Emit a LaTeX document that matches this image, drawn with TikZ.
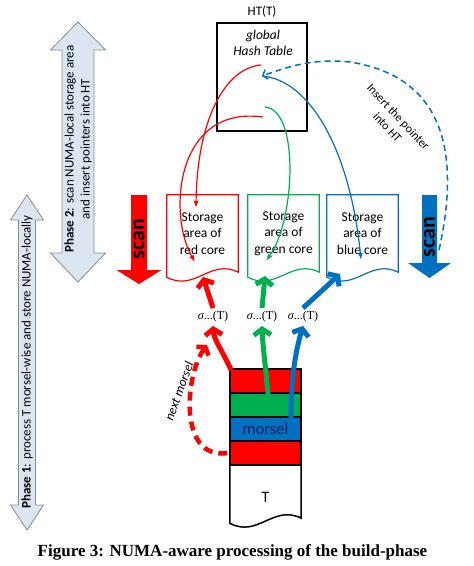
\documentclass[tikz,border=0pt]{standalone}
\usepackage{fontspec}
\setmainfont{Carlito}
\newfontfamily\serifcap{Liberation Serif}
\usetikzlibrary{arrows.meta,calc}
\definecolor{nred}{HTML}{FF0000}
\definecolor{ngreen}{HTML}{00B050}
\definecolor{nblue}{HTML}{0070C0}
\definecolor{navy}{HTML}{002060}
\definecolor{phasefill}{HTML}{DCE6F2}
\definecolor{phaseline}{HTML}{8C8C8C}

% page shape with a wavy bottom, drawn round a named node
\newcommand{\docoutline}[2]{%
  \draw[#2] (#1.north west) -- (#1.north east) -- (#1.south east)
    .. controls +(-28,-14) and +(28,15) .. ($(#1.south west)+(0,5)$) -- cycle;}

\begin{document}
\begin{tikzpicture}[x=1pt,y=-1pt,
  store/.style={minimum width=71pt,minimum height=77pt,inner sep=0pt,align=center,
    font=\fontsize{13.5}{16.5}\selectfont},
  stripe/.style={draw=black,line width=1.5pt,minimum width=71pt,minimum height=24pt,inner sep=0pt},
  fat/.style={line width=5pt,-{Straight Barb[length=6pt,width=17pt]}},
  thin/.style={line width=1.2pt,-{Latex[length=7pt,width=5pt]}},
  sel/.style={font=\serifcap\fontsize{12}{12}\selectfont},
  scantext/.style={rotate=90,font=\bfseries\fontsize{22}{22}\selectfont},
  phase/.style={fill=phasefill,draw=phaseline,line width=0.8pt},
  phasetext/.style={rotate=90,align=center,font=\fontsize{13}{16}\selectfont}]
\useasboundingbox (0,0) rectangle (474,566);

% phase arrows
\draw[phase] (78,22) -- (105.5,50) -- (94,50) -- (94,253) -- (105.5,253) -- (78,282)
  -- (50.5,253) -- (62,253) -- (62,50) -- (50.5,50) -- cycle;
\draw[phase] (27,195) -- (43.5,220) -- (35.5,220) -- (35.5,505) -- (43.5,505) -- (27,530)
  -- (10.5,505) -- (18.5,505) -- (18.5,220) -- (10.5,220) -- cycle;
\node[phasetext] (ph2) at (78,149) {\textbf{Phase 2}: scan NUMA-local storage area\\and insert pointers into HT};
\node[phasetext] (ph1) at (27,362) {\textbf{Phase 1}: process T morsel-wise and store NUMA-locally};

% hash table
\node[font=\fontsize{13}{13}\selectfont] (httitle) at (262,12) {HT(T)};
\node[draw,line width=1.8pt,minimum width=90pt,minimum height=108pt] (ht) at (262,77) {};
\node[align=center,font=\itshape\fontsize{13.5}{16}\selectfont] (htname) at (263,43) {global\\Hash Table};
\coordinate (hr1) at (261,65);
\coordinate (hr2) at (263,117);
\coordinate (hg) at (265,107);
\coordinate (hb) at (262,76);

% scan arrows
\fill[nred] (131,195) -- (147,195) -- (147,270) -- (161.5,270) -- (139,284) -- (116.5,270) -- (131,270) -- cycle;
\fill[nblue] (422,195) -- (437,195) -- (437,263) -- (451,263) -- (429.5,278) -- (408,263) -- (422,263) -- cycle;
\node[scantext] (scanr) at (139,239) {scan};
\node[scantext] (scanb) at (429.5,237) {scan};
\coordinate (dstart) at (439,250);

% storage areas
\node[store] (sred) at (202.5,233.5) {Storage\\area of\\red core};
\node[store] (sgreen) at (283.5,233.5) {Storage\\area of\\green core};
\node[store] (sblue) at (362.5,233.5) {Storage\\area of\\blue core};
\docoutline{sred}{nred,line width=1.2pt}
\docoutline{sgreen}{ngreen,line width=1.2pt}
\docoutline{sblue}{nblue,line width=1.2pt}

% pointers into HT
\draw[thin,nred] (hr1) .. controls (225,68) and (197,120) .. ($(sred.center)+(-6.5,-25.5)$);
\draw[thin,nred] (hr2) .. controls (175,105) and (168,215) .. ($(sred.center)+(-7.5,28.5)$);
\draw[thin,ngreen] (hg) .. controls (300,110) and (295,220) .. ($(sgreen.center)+(-17.5,27.5)$);
\draw[thin,nblue] (hb) .. controls (310,80) and (350,150) .. ($(sblue.center)+(-1.5,26.5)$);
\draw[nblue,line width=1.5pt,dash pattern=on 6pt off 4pt,-{Straight Barb[length=4pt,width=10pt]}]
  (dstart) .. controls (458,165) and (452,78) .. (350,62) .. controls (310,58) and (285,68) .. (hb);
\node[rotate=-47,align=center,font=\fontsize{12}{15}\selectfont] (insert) at (393,122) {Insert the pointer\\into HT};

% table T
\node[stripe,fill=nred] (r1) at (265.5,381) {};
\node[stripe,fill=ngreen] (g1) at (265.5,405) {};
\node[stripe,fill=nblue,text=navy,font=\fontsize{16.5}{16.5}\selectfont] (b1) at (265.5,429) {morsel};
\node[stripe,fill=nred] (r2) at (265.5,453) {};
\node[minimum width=71pt,minimum height=53pt,inner sep=0pt,text height=21pt,
  font=\fontsize{16}{16}\selectfont] (tbody) at (265.5,491.5) {T};
\docoutline{tbody}{black,line width=1.5pt}

% selections
\node[sel] (sigr) at (213,317) {\textit{σ}...(T)};
\node[sel] (sigg) at (262,317) {\textit{σ}...(T)};
\node[sel] (sigb) at (303,317) {\textit{σ}...(T)};
\draw[fat,nred] ($(r1.north west)+(2,2)$) .. controls (222,350) and (214,340) .. (sigr.south);
\draw[fat,ngreen] ($(g1.north)+(2.5,2)$) .. controls (266,370) and (263,350) .. (sigg.south);
\draw[fat,nblue] ($(b1.north)+(25.5,3)$) .. controls (291,375) and (296,350) .. (sigb.south);
\draw[fat,nred] (sigr.north) -- (203,277);
\draw[fat,ngreen] (sigg.north) -- (265,276);
\draw[fat,nblue] (sigb.north) -- (340,274);

% next morsel
\coordinate (nexttip) at (207,345);
\draw[nred,line width=4.5pt,dash pattern=on 9pt off 6pt,-{Straight Barb[length=5pt,width=15pt]}]
  ($(r2.west)+(-2,0)$) .. controls (178,460) and (185,375) .. (nexttip);
\node[rotate=70,font=\itshape\fontsize{13}{13}\selectfont] (nextlbl) at (179,391) {next morsel};

\node[font=\serifcap\bfseries\fontsize{17}{17}\selectfont] (caption) at (232.5,552) {Figure 3: NUMA-aware processing of the build-phase};
\end{tikzpicture}
\end{document}
